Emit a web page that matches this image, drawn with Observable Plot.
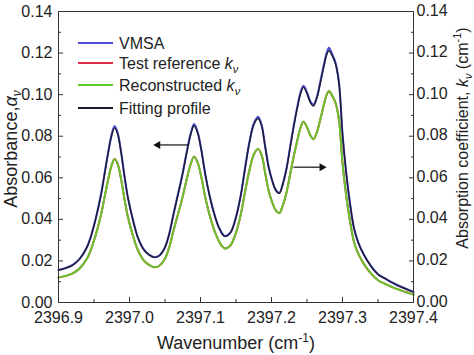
<!DOCTYPE html>
<html>
<head>
<meta charset="utf-8">
<script src="https://cdn.jsdelivr.net/npm/d3@7"></script>
<script src="https://cdn.jsdelivr.net/npm/@observablehq/plot@0.6"></script>
<style>
  html, body { margin: 0; padding: 0; background: #fff; }
  svg { display: block; }
</style>
</head>
<body>
<div id="chart"></div>
<script>
// ---- data ----
const wavenumber = [
  2396.900, 2396.910, 2396.920, 2396.930, 2396.940, 2396.945, 2396.950, 2396.955, 2396.960, 2396.965,
  2396.970, 2396.975, 2396.979, 2396.983, 2396.988, 2396.993, 2396.998, 2397.005, 2397.012, 2397.020,
  2397.028, 2397.035, 2397.042, 2397.050, 2397.056, 2397.062, 2397.068, 2397.074, 2397.080, 2397.086,
  2397.091, 2397.096, 2397.101, 2397.107, 2397.113, 2397.119, 2397.126, 2397.134, 2397.142, 2397.150,
  2397.157, 2397.163, 2397.169, 2397.175, 2397.181, 2397.186, 2397.191, 2397.196, 2397.201, 2397.206,
  2397.211, 2397.216, 2397.221, 2397.226, 2397.231, 2397.236, 2397.241, 2397.245, 2397.250, 2397.255,
  2397.259, 2397.264, 2397.269, 2397.274, 2397.278, 2397.281, 2397.285, 2397.290, 2397.295, 2397.300,
  2397.305, 2397.310, 2397.316, 2397.322, 2397.330, 2397.340, 2397.350, 2397.360, 2397.370, 2397.380,
  2397.390, 2397.400
];
// Fitting profile (absorbance, left axis)
const fittingProfile = [
  0.0155, 0.0165, 0.0180, 0.0210, 0.0265, 0.0310, 0.0370, 0.0440, 0.0520, 0.0620,
  0.0720, 0.0805, 0.0840, 0.0815, 0.0725, 0.0605, 0.0500, 0.0395, 0.0310, 0.0255,
  0.0228, 0.0217, 0.0225, 0.0265, 0.0330, 0.0425, 0.0515, 0.0605, 0.0710, 0.0805,
  0.0850, 0.0815, 0.0735, 0.0610, 0.0510, 0.0430, 0.0360, 0.0318, 0.0335, 0.0410,
  0.0520, 0.0650, 0.0770, 0.0855, 0.0885, 0.0850, 0.0750, 0.0650, 0.0585, 0.0540,
  0.0525, 0.0570, 0.0640, 0.0740, 0.0840, 0.0930, 0.1005, 0.1035, 0.1005, 0.0960,
  0.0945, 0.0985, 0.1060, 0.1140, 0.1195, 0.1212, 0.1190, 0.1150, 0.1055, 0.0810,
  0.0630, 0.0490, 0.0360, 0.0290, 0.0230, 0.0175, 0.0135, 0.0115, 0.0095, 0.0078,
  0.0064, 0.0050
];
// VMSA (absorbance, left axis) - slightly noisy above the fit at the peaks
const vmsa = [
  0.0156, 0.0166, 0.0181, 0.0211, 0.0266, 0.0311, 0.0371, 0.0441, 0.0522, 0.0622,
  0.0723, 0.0810, 0.0849, 0.0820, 0.0728, 0.0607, 0.0501, 0.0396, 0.0311, 0.0256,
  0.0229, 0.0218, 0.0226, 0.0266, 0.0331, 0.0426, 0.0517, 0.0607, 0.0713, 0.0810,
  0.0858, 0.0820, 0.0738, 0.0612, 0.0511, 0.0431, 0.0361, 0.0320, 0.0336, 0.0411,
  0.0521, 0.0652, 0.0773, 0.0860, 0.0893, 0.0855, 0.0753, 0.0652, 0.0587, 0.0542,
  0.0527, 0.0572, 0.0642, 0.0743, 0.0844, 0.0935, 0.1012, 0.1043, 0.1011, 0.0965,
  0.0951, 0.0990, 0.1066, 0.1147, 0.1204, 0.1225, 0.1198, 0.1156, 0.1059, 0.0812,
  0.0631, 0.0491, 0.0361, 0.0291, 0.0231, 0.0176, 0.0136, 0.0116, 0.0096, 0.0079,
  0.0065, 0.0051
];
// Test reference k (absorption coefficient, right axis)
const testReferenceK = [
  0.0120, 0.0128, 0.0140, 0.0165, 0.0210, 0.0248, 0.0298, 0.0356, 0.0424, 0.0508,
  0.0592, 0.0662, 0.0690, 0.0670, 0.0596, 0.0496, 0.0408, 0.0320, 0.0250, 0.0203,
  0.0180, 0.0170, 0.0177, 0.0211, 0.0266, 0.0346, 0.0421, 0.0497, 0.0585, 0.0664,
  0.0702, 0.0673, 0.0606, 0.0502, 0.0418, 0.0352, 0.0295, 0.0260, 0.0274, 0.0336,
  0.0428, 0.0537, 0.0637, 0.0711, 0.0739, 0.0710, 0.0624, 0.0538, 0.0482, 0.0443,
  0.0430, 0.0468, 0.0527, 0.0612, 0.0698, 0.0775, 0.0842, 0.0870, 0.0843, 0.0802,
  0.0785, 0.0820, 0.0884, 0.0955, 0.1002, 0.1018, 0.0998, 0.0962, 0.0880, 0.0672,
  0.0520, 0.0403, 0.0294, 0.0236, 0.0186, 0.0140, 0.0107, 0.0090, 0.0074, 0.0061,
  0.0049, 0.0038
];
// Reconstructed k (absorption coefficient, right axis)
const reconstructedK = [
  0.0120, 0.0128, 0.0140, 0.0165, 0.0210, 0.0248, 0.0298, 0.0356, 0.0424, 0.0508,
  0.0592, 0.0662, 0.0690, 0.0670, 0.0596, 0.0496, 0.0408, 0.0320, 0.0250, 0.0203,
  0.0180, 0.0170, 0.0177, 0.0211, 0.0266, 0.0346, 0.0421, 0.0497, 0.0585, 0.0664,
  0.0702, 0.0673, 0.0606, 0.0502, 0.0418, 0.0352, 0.0295, 0.0260, 0.0274, 0.0336,
  0.0428, 0.0537, 0.0637, 0.0711, 0.0739, 0.0710, 0.0624, 0.0538, 0.0482, 0.0443,
  0.0430, 0.0468, 0.0527, 0.0612, 0.0698, 0.0775, 0.0842, 0.0870, 0.0843, 0.0802,
  0.0785, 0.0820, 0.0884, 0.0955, 0.1002, 0.1018, 0.0998, 0.0962, 0.0880, 0.0672,
  0.0520, 0.0403, 0.0294, 0.0236, 0.0186, 0.0140, 0.0107, 0.0090, 0.0074, 0.0061,
  0.0049, 0.0038
];
const xTicks = [2396.9, 2397.0, 2397.1, 2397.2, 2397.3, 2397.4];
const xMinorTicks = [2396.95, 2397.05, 2397.15, 2397.25, 2397.35];
const yTicks = [0, 0.02, 0.04, 0.06, 0.08, 0.10, 0.12, 0.14];
const yMinorTicks = [0.01, 0.03, 0.05, 0.07, 0.09, 0.11, 0.13];
// annotation arrows: which axis each curve pair refers to
const arrowFrom = [[2397.083, 0.0758], [2397.231, 0.0651]];
const arrowTo   = [[2397.040, 0.0758], [2397.271, 0.0651]];

const seriesNames = ["VMSA", "Test reference", "Reconstructed", "Fitting profile"];
const colors = {vmsa: "#4f4fd6", test: "#e02a4a", recon: "#62c82a", fit: "#1b1b2e"};

const rows = wavenumber.map((w, i) => ({
  w, vmsa: vmsa[i], fit: fittingProfile[i], test: testReferenceK[i], recon: reconstructedK[i]
}));
const arrows = arrowFrom.map((a, i) => ({x1: a[0], y1: a[1], x2: arrowTo[i][0], y2: arrowTo[i][1]}));

const FONT = "'Liberation Sans', Arial, Helvetica, sans-serif";
const curve = "catmull-rom";

const chart = Plot.plot({
  width: 474,
  height: 355,
  marginLeft: 58,
  marginRight: 61,
  marginTop: 11,
  marginBottom: 53,
  style: {fontFamily: FONT, fontSize: "16px", color: "#222", background: "#fff"},
  x: {domain: [2396.9, 2397.4], label: null},
  y: {domain: [0, 0.14], label: null},
  marks: [
    Plot.line(rows, {x: "w", y: "vmsa", stroke: colors.vmsa, strokeWidth: 2.1, curve}),
    Plot.line(rows, {x: "w", y: "fit", stroke: colors.fit, strokeWidth: 1.4, curve}),
    Plot.line(rows, {x: "w", y: "test", stroke: colors.test, strokeWidth: 2, curve}),
    Plot.line(rows, {x: "w", y: "recon", stroke: colors.recon, strokeWidth: 1.9, curve}),
    Plot.link(arrows, {x1: "x1", y1: "y1", x2: "x2", y2: "y2", stroke: "#111", strokeWidth: 1.2}),
    Plot.dot(arrows, {x: "x2", y: "y2", symbol: "triangle", r: 3, fill: "#111", stroke: null,
      rotate: d => (d.x2 < d.x1 ? -90 : 90)}),
    // labels
    Plot.axisX({ticks: xTicks, tickSize: 0, tickPadding: 9, tickFormat: d => d.toFixed(1), fontSize: 16, label: null}),
    Plot.axisY({anchor: "left", ticks: yTicks, tickSize: 0, tickPadding: 6, tickFormat: d => d.toFixed(2), fontSize: 16, label: null}),
    Plot.axisY({anchor: "right", ticks: yTicks, tickSize: 0, tickPadding: 3, dy: -1, tickFormat: d => d.toFixed(2), fontSize: 16, label: null}),
    // inward ticks
    Plot.axisX({ticks: xTicks, tickSize: 5, dy: -5, tickFormat: () => "", label: null, stroke: "#333"}),
    Plot.axisX({ticks: xMinorTicks, tickSize: 3, dy: -3, tickFormat: () => "", label: null, stroke: "#333"}),
    Plot.axisY({anchor: "left", ticks: yTicks, tickSize: 5, dx: 5, tickFormat: () => "", label: null, stroke: "#333"}),
    Plot.axisY({anchor: "left", ticks: yMinorTicks, tickSize: 3, dx: 3, tickFormat: () => "", label: null, stroke: "#333"}),
    Plot.axisY({anchor: "right", ticks: yTicks, tickSize: 5, dx: -5, tickFormat: () => "", label: null, stroke: "#333"}),
    Plot.axisY({anchor: "right", ticks: yMinorTicks, tickSize: 3, dx: -3, tickFormat: () => "", label: null, stroke: "#333"}),
    Plot.frame({stroke: "#333", strokeWidth: 1})
  ]
});

document.getElementById("chart").appendChild(chart);

// ---- titles and legend (text with sub/superscripts) ----
const svg = d3.select(chart);
const g = svg.append("g").attr("font-family", FONT).attr("fill", "#222");

// x title
const xt = g.append("text").attr("x", 236).attr("y", 349).attr("text-anchor", "middle").attr("font-size", 18);
xt.append("tspan").text("Wavenumber (cm");
xt.append("tspan").attr("dy", -7).attr("font-size", 12).text("-1");
xt.append("tspan").attr("dy", 7).text(")");

// left title
const lt = g.append("text").attr("transform", "translate(17,149) rotate(-90)").attr("text-anchor", "middle").attr("font-size", 18);
lt.append("tspan").text("Absorbance,");
lt.append("tspan").attr("font-style", "italic").text("α");
lt.append("tspan").attr("font-style", "italic").attr("dy", 4).attr("font-size", 12).text("ν");

// right title
const rt = g.append("text").attr("transform", "translate(468,138) rotate(-90)").attr("text-anchor", "middle").attr("font-size", 16);
rt.append("tspan").text("Absorption coefficient, ");
rt.append("tspan").attr("font-style", "italic").text("k");
rt.append("tspan").attr("font-style", "italic").attr("dy", 4).attr("font-size", 11).text("ν");
rt.append("tspan").attr("dy", -4).text(" (cm");
rt.append("tspan").attr("dy", -7).attr("font-size", 11).text("-1");
rt.append("tspan").attr("dy", 7).text(")");

// legend
const legendY = [43, 63, 85, 108];
const legendColors = [colors.vmsa, colors.test, colors.recon, colors.fit];
seriesNames.forEach((name, i) => {
  g.append("line").attr("x1", 78).attr("x2", 113).attr("y1", legendY[i]).attr("y2", legendY[i])
    .attr("stroke", legendColors[i]).attr("stroke-width", 1.8);
  const t = g.append("text").attr("x", 119).attr("y", legendY[i] + 5.5)
    .attr("text-anchor", "start").attr("font-size", 16);
  t.append("tspan").text(name);
  if (i === 1 || i === 2) {
    t.append("tspan").attr("font-style", "italic").text(" k");
    t.append("tspan").attr("font-style", "italic").attr("dy", 4).attr("font-size", 11).text("ν");
  }
});
</script>
</body>
</html>
